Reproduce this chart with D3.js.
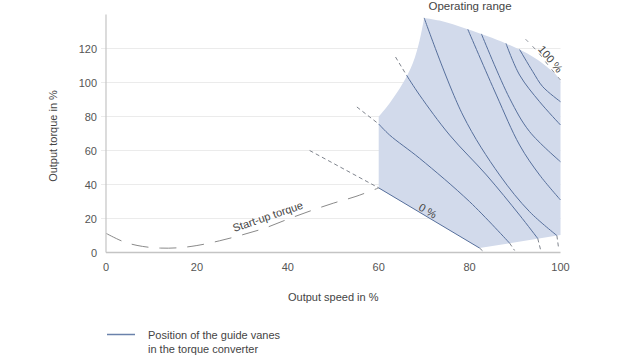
<!DOCTYPE html>
<html><head><meta charset="utf-8">
<script src="https://cdn.jsdelivr.net/npm/d3@7"></script>
<style>
html,body{margin:0;padding:0;background:#fff;}
svg{display:block;font-family:"Liberation Sans",Arial,sans-serif;}
</style></head>
<body><svg id="c" width="640" height="356"></svg>
<script>
// ---- data ----
const xTicks = [0, 20, 40, 60, 80, 100];
const yTicks = [0, 20, 40, 60, 80, 100, 120];
const xTitle = "Output speed in %";
const yTitle = "Output torque in %";
const legendLabel = ["Position of the guide vanes", "in the torque converter"];

// operating range outline (speed %, torque %)
const rangeTopEdge = [[70,138],[73.4,136.4],[79.6,131.3],[88,123],[93.9,115.2],[98.3,106.4],[100,101.5]];
const rangeStraightEdge = [[100,10.3],[82.2,2.6],[60,38],[60,79.9]];
const rangeLeftEdge = [[60,79.9],[62.4,87.8],[65.3,99.5],[67.5,111.3],[69,124.7],[70,138]];

// guide vane position lines (0 % ... 100 %)
const vane0 = [[60,38],[82.2,2.6]];
const vane1 = [[60,75.6],[62.4,69.1],[69,55.4],[80,29.9],[88.8,5.5]];
const vane2 = [[66.1,104.4],[69,92.6],[75.6,69.1],[83.7,45.6],[91,22],[95,8.2]];
const vane3 = [[70,138],[78.5,80.9],[86.6,45.6],[93.2,24],[99.2,10]];
const vane4 = [[79.6,131.3],[85.9,92.6],[91,63.2],[95.4,45.6],[100,30.9]];
const vane5 = [[82.6,128.6],[88.8,90.7],[93.2,71.1],[100,53.4]];
const vane6 = [[88,123],[91,104.4],[95.4,88.7],[100,75]];
const vane7 = [[91,119.4],[93.9,106.4],[96.1,97.5],[100,88.7]];
const vanes = [vane0, vane1, vane2, vane3, vane4, vane5, vane6, vane7];

// dashed continuations outside the operating range
const ext0 = [[44.8,60],[60,38]];
const ext1 = [[55.2,85.6],[60,75.6]];
const ext2 = [[63.7,115],[66.1,104.4]];
const extBottom0 = [[82.2,2.6],[83,0.6]];
const extBottom1 = [[88.8,5.5],[89.9,1.2]];
const extBottom2 = [[95,8.2],[95.6,1.8]];
const extBottom3 = [[99.2,10],[99.6,2.2]];
const vane100 = [[92.3,125.5],[95,118],[97.5,109.5],[100,101.5]];
const extensions = [ext0, ext1, ext2, extBottom0, extBottom1, extBottom2, extBottom3];

// start-up torque curve
const startUp = [[0,11.3],[4,6.2],[8,3.6],[12,2.6],[16,2.8],[20,4.1],[25,6.9],[30,10.4],[35,14.4],[40,19.6],[45,24.5],[50,29],[55,33],[60,38]];

// annotations: text, anchor (speed, torque), rotation
const annotations = [
  {text:"Operating range", at:[80.1,145.3], rot:0, size:11.5},
  {text:"Start-up torque", at:[35.6,21.2], rot:-19, size:11},
  {text:"0 %", at:[70.8,24.5], rot:30, size:11},
  {text:"100 %", at:[97.8,113.8], rot:50, size:11}
];

// ---- drawing ----
const svg = d3.select("#c");
const x = d3.scaleLinear().domain([0,100]).range([106,560.5]);
const y = d3.scaleLinear().domain([0,140]).range([252.5,14.5]);

// gridlines
svg.append("g").selectAll("line").data(yTicks.filter(d=>d>0)).join("line")
  .attr("x1", x(0)-5).attr("x2", x(100)).attr("y1", d=>y(d)).attr("y2", d=>y(d))
  .attr("stroke","#ebebeb").attr("stroke-width",1);

const lineLin = d3.line().x(d=>x(d[0])).y(d=>y(d[1]));
const lineCurve = d3.line().x(d=>x(d[0])).y(d=>y(d[1])).curve(d3.curveCatmullRom.alpha(0.5));

// operating range
const pTop = lineCurve(rangeTopEdge);
const pStraight = rangeStraightEdge.map(d=>"L"+x(d[0])+","+y(d[1])).join("");
const pLeft = lineCurve(rangeLeftEdge).replace(/^M/,"L");
svg.append("path").attr("d", pTop + pStraight + pLeft + "Z")
  .attr("fill","#d2daeb").attr("stroke","none");

// dashed extensions
svg.append("g").selectAll("path").data(extensions).join("path")
  .attr("d", d=>lineLin(d)).attr("fill","none")
  .attr("stroke","#80858e").attr("stroke-width",1).attr("stroke-dasharray","4,3");
svg.append("path").attr("d", lineCurve(vane100)).attr("fill","none")
  .attr("stroke","#8a8f98").attr("stroke-width",1).attr("stroke-dasharray","4,6");

// vane lines
svg.append("g").selectAll("path").data(vanes).join("path")
  .attr("d", d=>lineCurve(d)).attr("fill","none")
  .attr("stroke","#566f9c").attr("stroke-width",1);

// start-up torque
svg.append("path").attr("d", lineCurve(startUp)).attr("fill","none")
  .attr("stroke","#8a8a8a").attr("stroke-width",1).attr("stroke-dasharray","17,11");

// axes
svg.append("line").attr("x1",x(0)).attr("x2",x(0)).attr("y1",y(140)).attr("y2",y(0))
  .attr("stroke","#c4c4c4").attr("stroke-width",1.2);
svg.append("line").attr("x1",x(0)).attr("x2",x(100)).attr("y1",y(0)).attr("y2",y(0))
  .attr("stroke","#c4c4c4").attr("stroke-width",1.5);

// tick labels
svg.append("g").selectAll("text").data(xTicks).join("text")
  .attr("x", d=>x(d)).attr("y", 271).attr("text-anchor","middle")
  .attr("font-size",11).attr("fill","#555").text(d=>d);
svg.append("g").selectAll("text").data(yTicks).join("text")
  .attr("x", 97).attr("y", d=>y(d)+4).attr("text-anchor","end")
  .attr("font-size",11).attr("fill","#555").text(d=>d);

// axis titles
svg.append("text").attr("x", x(50)).attr("y", 301).attr("text-anchor","middle")
  .attr("font-size",11).attr("fill","#444").text(xTitle);
svg.append("text").attr("transform","translate(57,136) rotate(-90)").attr("text-anchor","middle")
  .attr("font-size",11).attr("fill","#444").text(yTitle);

// annotations
svg.append("g").selectAll("text").data(annotations).join("text")
  .attr("transform", d=>`translate(${x(d.at[0])},${y(d.at[1])}) rotate(${d.rot})`)
  .attr("text-anchor","middle").attr("dy","0.35em")
  .attr("font-size", d=>d.size).attr("fill","#444").text(d=>d.text);

// legend
svg.append("line").attr("x1",107).attr("x2",135).attr("y1",334.5).attr("y2",334.5)
  .attr("stroke","#6a82ab").attr("stroke-width",1.5);
svg.append("g").selectAll("text").data(legendLabel).join("text")
  .attr("x",148).attr("y",(d,i)=>338.5+i*14).attr("font-size",11).attr("fill","#444").text(d=>d);
</script></body></html>
